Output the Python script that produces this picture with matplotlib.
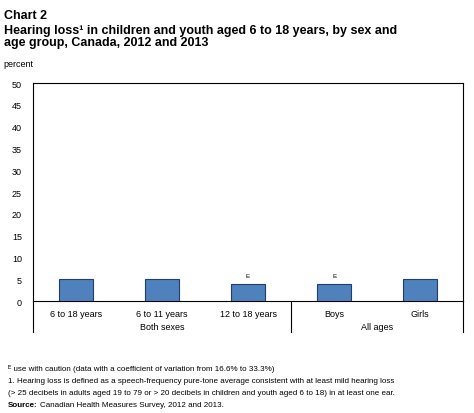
import matplotlib.pyplot as plt

categories = ['6 to 18 years', '6 to 11 years', '12 to 18 years', 'Boys', 'Girls']
values = [5.0, 5.0, 4.0, 4.0, 5.0]
flags = ['', '', 'E', 'E', '']
groups = ['Both sexes', 'All ages']
group_sizes = [3, 2]
yticks = list(range(0, 51, 5))

plt.rcParams['font.family'] = ['Liberation Sans', 'DejaVu Sans']
fig = plt.figure(figsize=(4.74, 4.14), dpi=100)
ax = fig.add_axes([0.0696, 0.2705, 0.9074, 0.5265])

x = list(range(len(categories)))
ax.bar(x, values, width=0.4, color='#4F81BD', edgecolor='#1F3F6F', linewidth=0.8, zorder=3)
for xi, v, f in zip(x, values, flags):
    if f:
        ax.text(xi, v + 1.2, f, ha='center', va='bottom', fontsize=4.5)

ax.set_xlim(-0.5, len(categories) - 0.5)
ax.set_ylim(0, 50)
ax.set_yticks(yticks)
ax.tick_params(axis='y', labelsize=6.5, length=0, pad=8)
ax.set_xticks(x)
ax.set_xticklabels(categories, fontsize=6.5)
ax.tick_params(axis='x', length=0, pad=6)
for s in ax.spines.values():
    s.set_linewidth(0.8)

# group separators and labels below axis
bounds = [-0.5]
for n in group_sizes:
    bounds.append(bounds[-1] + n)
for b in bounds:
    ax.plot([b, b], [0, -7], color='black', lw=0.8, clip_on=False)
for g, a, b in zip(groups, bounds[:-1], bounds[1:]):
    ax.text((a + b) / 2, -5.8, g, ha='center', va='center', fontsize=6.5)

fig.text(0.008, 0.955, 'Chart 2', fontsize=9, fontweight='bold')
fig.text(0.008, 0.888, 'Hearing loss\u00b9 in children and youth aged 6 to 18 years, by sex and\nage group, Canada, 2012 and 2013',
         fontsize=9, fontweight='bold', linespacing=1.0)
fig.text(0.008, 0.838, 'percent', fontsize=6.5)

fs = 5.8
fig.text(0.016, 0.105, '\u1d31 use with caution (data with a coefficient of variation from 16.6% to 33.3%)', fontsize=fs)
fig.text(0.016, 0.076, '1. Hearing loss is defined as a speech-frequency pure-tone average consistent with at least mild hearing loss', fontsize=fs)
fig.text(0.016, 0.047, '(> 25 decibels in adults aged 19 to 79 or > 20 decibels in children and youth aged 6 to 18) in at least one ear.', fontsize=fs)
fig.text(0.016, 0.018, 'Source:', fontsize=fs, fontweight='bold')
fig.text(0.085, 0.018, 'Canadian Health Measures Survey, 2012 and 2013.', fontsize=fs)

fig.savefig('out.png', dpi=100)
